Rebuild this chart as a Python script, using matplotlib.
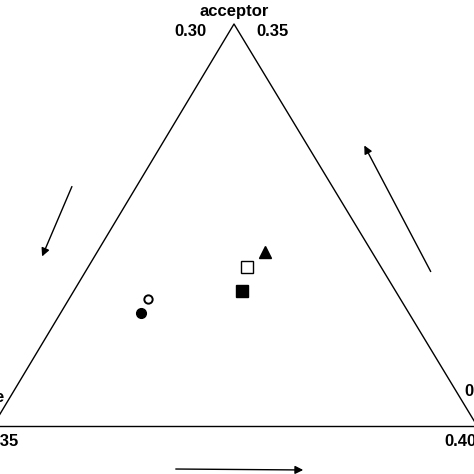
import matplotlib.pyplot as plt

# corner positions of the triangle (image pixels)
apex = (234, 24)
left = (-6, 424)
right = (476, 424)

# data points (image pixels)
filled_circle = ([141], [313])
open_circle = ([148], [299])
filled_tri = ([265], [252])
open_square = ([247], [267])
filled_square = ([242], [291])

fig = plt.figure(figsize=(4.74, 4.74), dpi=100)
ax = fig.add_axes([0, 0, 1, 1])
ax.set_xlim(0, 474)
ax.set_ylim(474, 0)
ax.axis('off')

ax.plot([left[0], apex[0], right[0]], [left[1], apex[1], right[1]], color='black', lw=1)
ax.plot([0, 474], [426, 426], color='black', lw=1)

ax.plot(*filled_circle, 'o', color='black', ms=7)
ax.plot(*open_circle, 'o', mfc='white', mec='black', mew=1.4, ms=6)
ax.plot(*filled_tri, '^', color='black', ms=9)
ax.plot(*open_square, 's', mfc='white', mec='black', mew=1, ms=9)
ax.plot(*filled_square, 's', color='black', ms=9)

arrow = dict(arrowstyle='-|>', color='black', lw=1, mutation_scale=12)
ax.annotate('', xy=(41, 259), xytext=(73, 184), arrowprops=arrow)
ax.annotate('', xy=(363, 143), xytext=(432, 274), arrowprops=arrow)
ax.annotate('', xy=(306, 470), xytext=(173, 469), arrowprops=arrow)

bold = dict(fontsize=12, fontweight='bold', family='Liberation Sans')
ax.text(234, 11, 'acceptor', ha='center', va='center', **bold)
ax.text(190, 31, '0.30', ha='center', va='center', **bold)
ax.text(273, 31, '0.35', ha='center', va='center', **bold)
ax.text(-14, 441, '0.35', ha='left', va='center', **bold)
ax.text(444, 441, '0.40', ha='left', va='center', **bold)
ax.text(464, 392, '0', ha='left', va='center', **bold)
ax.text(-6, 397, 'e', ha='left', va='center', **bold)

fig.savefig('out.png', dpi=100)
